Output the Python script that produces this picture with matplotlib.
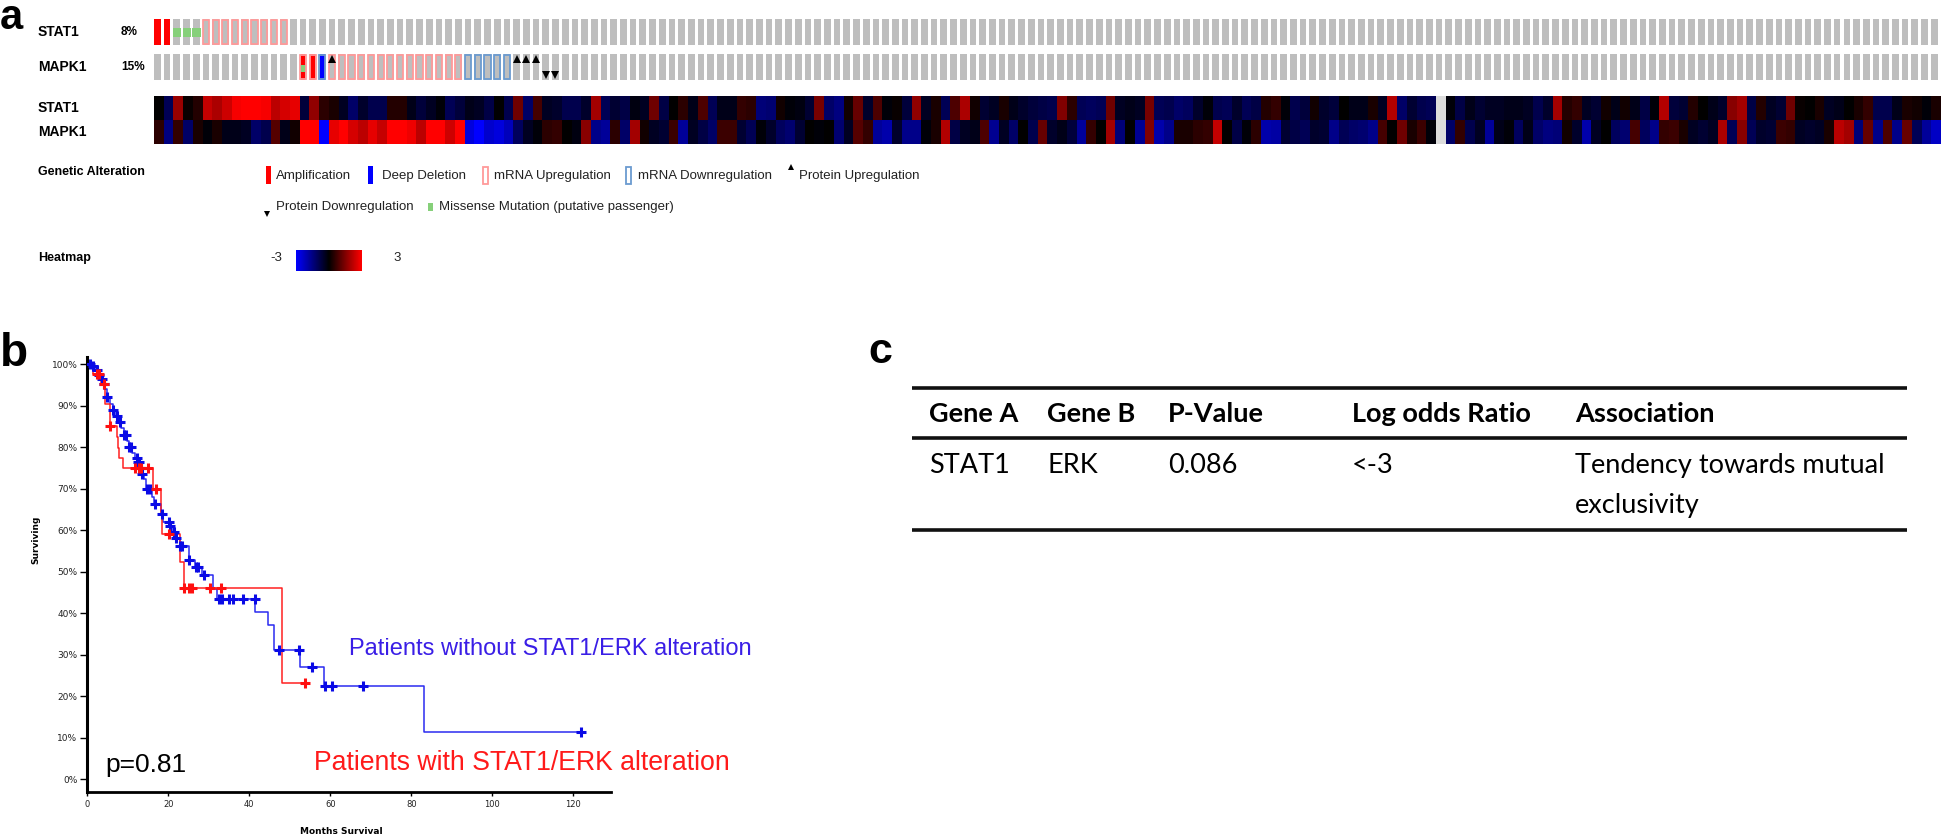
import numpy as np
import matplotlib
matplotlib.use("Agg")
import matplotlib.pyplot as plt
from matplotlib.patches import Rectangle
from matplotlib.colors import LinearSegmentedColormap

W, H = 1946, 839
nan = np.nan

# ---------------- panel a : oncoprint ----------------
n_samples = 184
genes = ["STAT1", "MAPK1"]
pct_altered = ["8%", "15%"]

# altered sample columns per gene
amp = {"STAT1": [0, 1], "MAPK1": [15, 16]}
deep_del = {"STAT1": [], "MAPK1": [17]}
mrna_up = {"STAT1": [5, 6, 7, 8, 9, 10, 11, 12, 13],
           "MAPK1": [15, 16, 18, 19, 20, 21, 22, 23, 24, 25, 26, 27, 28, 29, 30, 31]}
mrna_down = {"STAT1": [], "MAPK1": [17, 32, 33, 34, 35, 36]}
prot_up = {"STAT1": [], "MAPK1": [18, 37, 38, 39]}
prot_down = {"STAT1": [], "MAPK1": [40, 41]}
missense = {"STAT1": [2, 3, 4], "MAPK1": [15]}

# mRNA z-scores (heatmap)
stat1_expr = [0, -1, 1.8, 0.1, 0.4, 2.3, 2.0, 2.4, 2.9, 3, 3, 2.9, 2.2, 2.5, 2.7, -0.7, 1.7, 0.5, 0.3, -0.4,
              -1.2, -0.5, -0.9, -0.9, 0.4, 0.4, -0.3, -0.7, -0.4, -0.1, -1.0, -0.7, -0.3, -0.4, -0.8, 0, -0.9, 1.3,
              -1.2, 0.8, -0.4, -0.5, -0.9, -0.9, -0.5, 1.9,
              -1.0, -0.6, -0.8, -0.2, -0.4, 1.3, -0.8, 0, 0.5, -0.3, 0.9, -1.0, -0.3, -0.3, 0.6, 0.5, -1.4, -1.3,
              0.2, -0.1, -0.2, -0.6, 1.4, -1.2, -1.5, 0.2, 1.2, -0.5, 0.9, -0.1, 0.1, -0.7, 1.7, -0.4, 0.3, -1.0,
              0.9, 2.0, 0.2, -0.6, -0.4, 0.3, -0.3, -0.5, -0.7, -0.8,
              -0.9, 1.5, 0.5, -1.0, -1.1, -1.0, 1.3, -0.4, -0.3, -0.4, 1.4, -1.0, -0.9, -1.2, -1.1, -0.5, -0.1,
              -0.9, -1.0, -0.5, -1.0, -0.8, 0.4, 0.6, -0.1, -0.9, -0.7, 0.2, -0.5, -0.7, 0, -0.3, -0.3, 0.3, -0.4,
              2.1, -1.2, -0.6, -0.9, -1.0, nan, -0.1, -0.8, -0.3, -0.6, -0.4,
              -0.4, -0.3, -0.3, -0.4, -0.9, -0.5, 1.9, 0.4, 0.6, -0.4, -0.6, 0.2, -0.3, 0.2, -0.3, -0.8, -0.1, 2.1,
              -0.7, -0.6, 0.4, 0, -0.3, -0.5, 1.6, 1.9, -0.8, 0.4, -0.4, -0.6, 1.3, 0.1, 0, 0.3, -0.4, -0.3, 0,
              0.3, 0.6, -0.9, -0.9, -0.3, 0.3, 0.2, -0.1, 0.3]
mapk1_expr = [0.5, -1.5, 0.6, -1.2, 0.3, -0.1, 0.3, -0.3, -0.3, -0.4, -1.2, -0.9, 1.0, -0.3, 0.2, 3, 3, -3, 2.7, 3,
              2.5, 2.2, 2.7, 2.3, 3, 3, 2.8, 2.2, 3, 3, 2.4, 3, -2.6, -3, -2.4, -2.6, -2.2, -1.1, -0.4, -0.1,
              0.5, 0.6, 0, -0.2, 1.6, -1.6,
              -1.8, 0.5, -1.2, 1.9, 0.2, -0.4, -0.6, 0.7, -1.8, -0.4, -0.8, -1.2, 0.7, 0.7, -0.6, -1.0, -0.1, -0.5,
              -1.1, -1.3, -0.6, 0, -0.1, 0, -1.3, -0.4, 1.0, 0.6, -1.8, -2.0, -0.5, -1.6, -1.6, -0.1, 0.3, 2.1,
              -0.8, -0.4, -0.3, 0.9, -1.7, -0.4, -1.2, 0, -0.9, 1.2,
              -0.5, -0.3, -0.7, -1.8, 0.6, 0, 1.9, -1.4, 0, -1.7, 1.5, -2.0, -1.6, 0.3, 0.3, 0.5, 0.6, 2.3, 0,
              -0.8, -0.1, 0.5, -2.0, -1.9, -0.6, -0.8, -1.0, -0.5, -0.6, -1.6, -1.0, -1.2, -1.3, -1.6, 0.8, 0,
              1.3, 0.3, 0.7, -0.1, nan, -1.2, 0.6, -0.9, -0.4, -1.8,
              -0.3, -0.1, -1.1, -0.3, -1.2, -1.5, -1.4, 0.2, -0.5, -2.0, -0.4, 0, -1.1, -1.3, 0.8, -1.1, -1.6,
              0.6, 0.7, 0.3, -0.4, -0.6, -0.4, 2.0, -1.0, 1.6, -1.0, -0.5, -0.6, 0.7, 0.6, -0.4, -0.5, -0.4, 0.3,
              2.2, 1.9, -1.4, 1.2, -1.6, 0.9, -1.6, 1.2, -1.0, -1.8, -2.3]

legend_row1 = ["Amplification", "Deep Deletion", "mRNA Upregulation", "mRNA Downregulation", "Protein Upregulation"]
legend_row2 = ["Protein Downregulation", "Missense Mutation (putative passenger)"]

# ---------------- panel b : Kaplan-Meier ----------------
blue_t = [0, 1.0, 1.8, 2.5, 3.2, 3.8, 4.3, 4.8, 5.5, 6.3, 7.0, 7.6, 8.3, 9.0, 9.8, 10.3, 11.0, 11.8, 12.5,
          13.0, 13.5, 14.0, 14.5, 16.0, 16.5, 18.3, 18.8, 20.4, 20.8, 22.0, 22.8, 25.0, 26.5, 28.3, 31.0,
          32.0, 41.5, 44.7, 46.0, 52.5, 58.5, 83.1, 121.9]
blue_s = [100, 99.5, 98.5, 97.5, 96.5, 95.3, 94, 92, 90.5, 89, 87.5, 86, 84.5, 83, 81.5, 80, 78.5, 77.5, 76.5,
          75, 73.5, 72.3, 70, 68, 66.2, 64, 62, 61, 59.5, 58, 56.2, 52.8, 51, 49.1, 45.7,
          43.3, 40.2, 37.1, 31.1, 27.1, 22.5, 11.3, 11.3]
blue_cens = [0.7, 1.3, 2.3, 3.0, 3.6, 4.0, 4.8, 6.4, 7.4, 8.1, 9.1, 9.6, 10.4, 10.8, 12.2, 12.6, 12.8, 13.3,
             13.6, 14.7, 15.5, 16.7, 18.4, 20.1, 20.5, 21.3, 22.0, 23.0, 23.4, 25.2, 26.9, 27.4, 28.9, 32.5,
             33.2, 35.0, 35.9, 38.4, 41.3, 47.3, 52.2, 55.5, 58.6, 60.4, 68.0, 121.9]
red_t = [0, 0.8, 1.5, 3.5, 4.3, 5.5, 7.4, 7.7, 7.9, 8.8, 16.1, 18.2, 18.4, 22.8, 23.8, 48.0, 53.8]
red_s = [100, 99, 97.6, 95.3, 90.4, 85, 82.4, 79.8, 77.4, 74.9, 70, 64.4, 59.1, 52.4, 46, 23.1, 23.1]
red_cens = [2.3, 3.0, 4.0, 5.7, 11.8, 12.8, 13.2, 14.9, 16.9, 20.1, 23.9, 25.2, 25.9, 30.3, 33.1, 53.8]
p_value = "p=0.81"

# ---------------- panel c : table ----------------
table_header = ["Gene A", "Gene B", "P-Value", "Log odds Ratio", "Association"]
table_row = ["STAT1", "ERK", "0.086", "<-3", "Tendency towards mutual\nexclusivity"]

SANS = ["Liberation Sans", "DejaVu Sans"]
plt.rcParams["font.family"] = SANS

fig = plt.figure(figsize=(W / 100, H / 100), dpi=100)
fig.patch.set_facecolor("white")


def fx(x):
    return x / W


def fy(y):
    return 1 - y / H


# oncoprint
ax_o = fig.add_axes([fx(154), fy(88), 1786.6 / W, 78 / H])
ax_o.set_xlim(0, n_samples)
ax_o.set_ylim(88, 10)
ax_o.axis("off")
row_top = {"STAT1": 19, "MAPK1": 54}
rh = 25.5
bw = 0.69
for g in genes:
    top = row_top[g]
    for i in range(n_samples):
        ax_o.add_patch(Rectangle((i, top), bw, rh, fc="#bebebe", ec="none"))
    for i in amp[g]:
        ax_o.add_patch(Rectangle((i + 0.1 if i in mrna_up[g] else i, top), bw - (0.2 if i in mrna_up[g] else 0),
                                 rh, fc="#ff0000", ec="none"))
    for i in deep_del[g]:
        ax_o.add_patch(Rectangle((i + 0.1, top), bw - 0.2, rh, fc="#0000ff", ec="none"))
    for i in mrna_up[g]:
        ax_o.add_patch(Rectangle((i + 0.03, top + 0.6), bw - 0.06, rh - 1.2, fc="none", ec="#ff9a9a", lw=1.3))
    for i in mrna_down[g]:
        ax_o.add_patch(Rectangle((i + 0.03, top + 0.6), bw - 0.06, rh - 1.2, fc="none", ec="#6b9bd0", lw=1.3))
    for i in missense[g]:
        if g == "STAT1":
            ax_o.add_patch(Rectangle((i - 0.05, top + 9), bw + 0.15, 9, fc="#86d07a", ec="none"))
        else:
            ax_o.add_patch(Rectangle((i + 0.1, top + 11), bw * 0.6, 7, fc="#86d07a", ec="none"))
    if prot_up[g]:
        ax_o.plot(np.array(prot_up[g]) + bw / 2, [top + 5] * len(prot_up[g]), "^", color="black", ms=5.2, mew=0)
    if prot_down[g]:
        ax_o.plot(np.array(prot_down[g]) + bw / 2, [top + rh - 4.5] * len(prot_down[g]), "v", color="black",
                  ms=5.2, mew=0)

# heatmap
cmap = LinearSegmentedColormap.from_list("bkr", ["#0000ff", "#000000", "#ff0000"])
cmap.set_bad("#dcdcdc")
ax_h = fig.add_axes([fx(154), fy(144), 1786.6 / W, 48 / H])
ax_h.imshow(np.array([stat1_expr, mapk1_expr]), cmap=cmap, vmin=-3, vmax=3, aspect="auto",
            interpolation="nearest", extent=(0, n_samples, 2, 0))
ax_h.axis("off")

# overlay for labels, legend and table (pixel coordinates)
ov = fig.add_axes([0, 0, 1, 1])
ov.set_xlim(0, W)
ov.set_ylim(H, 0)
ov.axis("off")

ov.text(0, 29, "a", fontsize=30, fontweight="bold", ha="left", va="baseline")
ov.text(0, 366, "b", fontsize=33, fontweight="bold", ha="left", va="baseline")
ov.text(868, 363, "c", fontsize=31, fontweight="bold", ha="left", va="baseline")

for g, p, yc in zip(genes, pct_altered, [32, 67]):
    ov.text(38, yc, g, fontsize=10, fontweight="bold", va="center")
    ov.text(121, yc, p, fontsize=8.5, fontweight="bold", va="center")
for g, yc in zip(genes, [108, 132]):
    ov.text(38, yc, g, fontsize=10, fontweight="bold", va="center")

ov.text(38, 172, "Genetic Alteration", fontsize=9, fontweight="bold", va="center")
ov.text(38, 258, "Heatmap", fontsize=9, fontweight="bold", va="center")

lab_kw = dict(fontsize=9.5, va="center", color="#222222")
# row 1
ov.add_patch(Rectangle((266, 166), 4.5, 18, fc="#ff0000", ec="none"))
ov.text(276, 176, legend_row1[0], **lab_kw)
ov.add_patch(Rectangle((368, 166), 4.5, 18, fc="#0000ff", ec="none"))
ov.text(382, 176, legend_row1[1], **lab_kw)
ov.add_patch(Rectangle((483, 166.5), 4.5, 17, fc="none", ec="#ff9a9a", lw=1.3))
ov.text(494, 176, legend_row1[2], **lab_kw)
ov.add_patch(Rectangle((626, 166.5), 4.5, 17, fc="none", ec="#6b9bd0", lw=1.3))
ov.text(638, 176, legend_row1[3], **lab_kw)
ov.plot([791], [167], "^", color="black", ms=4.5, mew=0)
ov.text(799, 176, legend_row1[4], **lab_kw)
# row 2
ov.plot([267], [214], "v", color="black", ms=4.5, mew=0)
ov.text(276, 207, legend_row2[0], **lab_kw)
ov.add_patch(Rectangle((428, 203), 5, 8, fc="#86d07a", ec="none"))
ov.text(439, 207, legend_row2[1], **lab_kw)

# heatmap colour key
ax_k = fig.add_axes([fx(296), fy(271), 66 / W, 21 / H])
ax_k.imshow(np.linspace(-3, 3, 100)[None, :], cmap=cmap, vmin=-3, vmax=3, aspect="auto")
ax_k.axis("off")
ov.text(270, 258, "-3", fontsize=9.5, va="center", color="#222222")
ov.text(393, 258, "3", fontsize=9.5, va="center", color="#222222")

# ---------------- panel b ----------------
ax = fig.add_axes([fx(87.3), fy(791.7), 523.7 / W, 435 / H])
ax.set_xlim(0, 129.3)
ax.set_ylim(-3.05, 101.8)
for s in ["top", "right"]:
    ax.spines[s].set_visible(False)
ax.spines["left"].set_linewidth(2.2)
ax.spines["bottom"].set_linewidth(2)
ax.step(blue_t, blue_s, where="post", color="#2b2bf0", lw=1.1, zorder=3)
ax.step(red_t, red_s, where="post", color="#ff2020", lw=1.1, zorder=4)


def surv_at(times, t_steps, s_steps):
    idx = np.searchsorted(t_steps, times, side="right") - 1
    return np.array(s_steps)[idx]


ax.plot(blue_cens, surv_at(blue_cens, blue_t, blue_s), "+", color="#0a0ae6", ms=7, mew=2.2, zorder=5)
ax.plot(red_cens, surv_at(red_cens, red_t, red_s), "+", color="#ff1010", ms=7, mew=2.2, zorder=6)

ax.set_yticks(np.arange(0, 101, 10))
ax.set_yticklabels([f"{v}%" for v in range(0, 101, 10)])
ax.set_xticks(np.arange(0, 121, 20))
ax.tick_params(axis="y", length=5, width=1, pad=2, labelsize=6.5, labelfontfamily="DejaVu Sans",
               labelcolor="#222222")
ax.tick_params(axis="x", length=3, width=1, pad=3, labelsize=6, labelfontfamily="DejaVu Sans",
               labelcolor="#222222")
ax.text(4.5, 3.5, p_value, fontsize=19, color="black", va="center")
ax.text(64.5, 31.3, "Patients without STAT1/ERK alteration", fontsize=17, color="#3a1ee6", va="center",
        clip_on=False)
ax.text(56, 3.8, "Patients with STAT1/ERK alteration", fontsize=19.2, color="#ff1a1a", va="center",
        clip_on=False)
ov.text(35.6, 540, "Surviving", fontsize=6.5, fontweight="bold", rotation=90, ha="center", va="center",
        family="DejaVu Sans")
ov.text(341, 832, "Months Survival", fontsize=6.5, fontweight="bold", ha="center", va="center",
        family="DejaVu Sans")

# ---------------- panel c ----------------
tx_left, tx_right = 912, 1907
for yy in [388, 437.5, 530]:
    ov.plot([tx_left, tx_right], [yy, yy], color="#111111", lw=2.6, solid_capstyle="butt")
col_x = [929, 1047, 1168, 1352, 1575]
TFONT = ["Lato", "DejaVu Sans"]
for x, h in zip(col_x, table_header):
    ov.text(x, 414, h, fontsize=19.5, fontweight="bold", family=TFONT, va="center")
for x, v in zip(col_x, table_row):
    ov.text(x, 453, v, fontsize=19.5, family=TFONT, va="top", linespacing=1.75)

fig.savefig("out.png", dpi=100, facecolor="white")
